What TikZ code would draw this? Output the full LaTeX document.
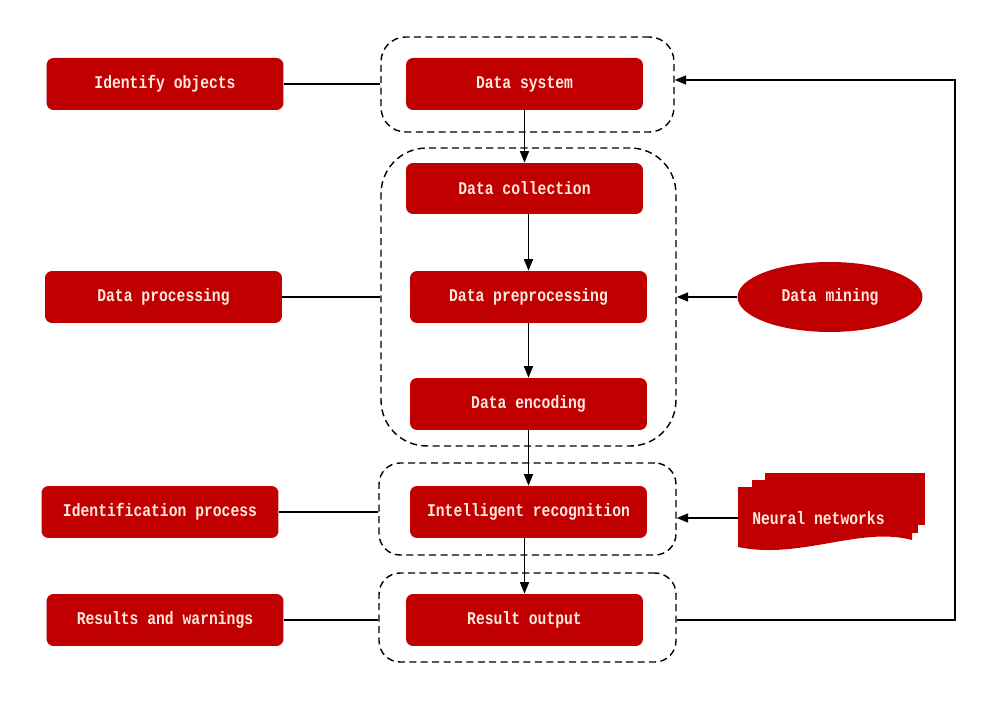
\documentclass[tikz,border=0pt]{standalone}
\usepackage{fontspec}
\newfontfamily\boxfont[FakeStretch=0.82]{Liberation Mono}
\usetikzlibrary{arrows.meta,shapes.geometric}
\definecolor{boxred}{RGB}{192,0,0}
\definecolor{boxtext}{RGB}{255,232,222}
\tikzset{
  redbox/.style={fill=boxred, rounded corners=4pt, minimum width=4.74cm, minimum height=1.04cm,
    text=boxtext, font=\boxfont\bfseries\fontsize{10.2}{12}\selectfont, inner sep=0pt},
  groupbox/.style 2 args={draw, dashed, dash pattern=on 4pt off 2.5pt, line width=0.8pt,
    rounded corners=#2, minimum width=#1, inner sep=0pt},
  link/.style={line width=0.9pt},
  flow/.style={line width=0.9pt, -{Triangle[length=2.3mm,width=1.8mm]}},
}

\begin{document}
\begin{tikzpicture}[x=0.02cm, y=-0.02cm]
    \useasboundingbox (0,0) rectangle (1000,712);
    \node[redbox] (obj) at (165,84) {Identify objects};
    \node[redbox] (proc) at (163.5,297) {Data processing};
    \node[redbox] (idp) at (160,512) {Identification process};
    \node[redbox] (res) at (165,620) {Results and warnings};
    \node[redbox] (sys) at (524.5,84) {Data system};
    \node[redbox, minimum height=1.02cm] (col) at (524.5,188.5) {Data collection};
    \node[redbox] (pre) at (528.5,297) {Data preprocessing};
    \node[redbox] (enc) at (528.5,404) {Data encoding};
    \node[redbox] (rec) at (528.5,512) {Intelligent recognition};
    \node[redbox] (out) at (524.5,620) {Result output};
    \node[redbox, ellipse, minimum width=3.7cm, minimum height=1.4cm] (mine) at (830,297) {Data mining};
    \node[groupbox={5.86cm}{14pt}, minimum height=1.9cm] (g1) at (527.5,84.5) {};
    \node[groupbox={5.9cm}{26pt}, minimum height=5.96cm] (g2) at (528.5,297) {};
    \node[groupbox={5.94cm}{12pt}, minimum height=1.84cm] (g3) at (527.5,509) {};
    \node[groupbox={5.94cm}{12pt}, minimum height=1.78cm] (g4) at (527.5,617.5) {};
    \fill[boxred] (765,473) -- (925,473) -- (925,525) -- (765,525) -- cycle;
    \fill[boxred] (752,480) -- (918,480) -- (918,533) -- (752,533) -- cycle;
    \fill[boxred] (738,487) -- (912,487) -- (912,540) .. controls (860,526) and (800,560) .. (738,547) -- cycle;
    \node[text=boxtext, font=\boxfont\bfseries\fontsize{10.2}{12}\selectfont, anchor=west, inner xsep=0.28cm] (nn) at (738,518) {Neural networks};
    \draw[link] (obj.east) -- (obj.east -| g1.west);
    \draw[link] (proc.east) -- (proc.east -| g2.west);
    \draw[link] (idp.east) -- (idp.east -| g3.west);
    \draw[link] (res.east) -- (res.east -| g4.west);
    \draw[flow] (sys.south) -- (col.north);
    \draw[flow] (pre.north |- col.south) -- (pre.north);
    \draw[flow] (pre.south) -- (enc.north);
    \draw[flow] (enc.south) -- (rec.north);
    \draw[flow] (out.north |- rec.south) -- (out.north);
    \draw[flow] (mine.west) -- (mine.west -| g2.east);
    \draw[flow] (nn.west) -- (nn.west -| g3.east);
    \coordinate (fbtop) at (955,80);
    \draw[flow] (out.east -| g4.east) -| (fbtop) -- (fbtop -| g1.east);
\end{tikzpicture}
\end{document}
